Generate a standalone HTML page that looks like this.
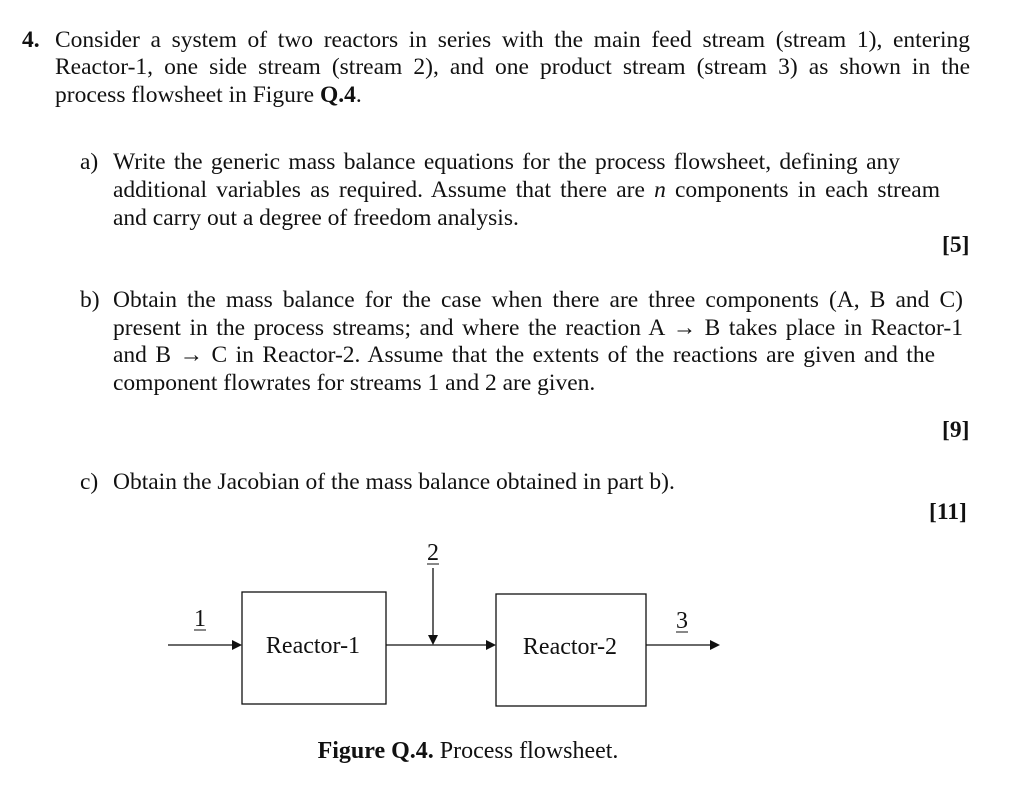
<!DOCTYPE html>
<html><head><meta charset="utf-8"><style>
body{margin:0;width:1024px;height:789px;background:#fff;position:relative;overflow:hidden;font-family:"Liberation Serif",serif;font-size:23.5px;color:#111}
.l{position:absolute;white-space:nowrap;line-height:27px;height:27px}
.j{text-align:justify;text-align-last:justify}
</style></head><body>
<div class="l" style="left:22px;top:27px"><b>4.</b></div>
<div class="l j" style="left:55px;top:27px;width:915px">Consider a system of two reactors in series with the main feed stream (stream 1), entering</div>
<div class="l j" style="left:55px;top:54px;width:915px">Reactor-1, one side stream (stream 2), and one product stream (stream 3) as shown in the</div>
<div class="l" style="left:55px;top:82px">process flowsheet in Figure <b>Q.4</b>.</div>

<div class="l" style="left:80px;top:149px">a)</div>
<div class="l j" style="left:113px;top:149px;width:787px">Write the generic mass balance equations for the process flowsheet, defining any</div>
<div class="l j" style="left:113px;top:177px;width:827px">additional variables as required. Assume that there are <i>n</i> components in each stream</div>
<div class="l" style="left:113px;top:205px">and carry out a degree of freedom analysis.</div>
<div class="l" style="left:942px;top:232px"><b>[5]</b></div>

<div class="l" style="left:80px;top:287px">b)</div>
<div class="l j" style="left:113px;top:287px;width:850px">Obtain the mass balance for the case when there are three components (A, B and C)</div>
<div class="l j" style="left:113px;top:315px;width:850px">present in the process streams; and where the reaction A → B takes place in Reactor-1</div>
<div class="l j" style="left:113px;top:342px;width:822px">and B → C in Reactor-2. Assume that the extents of the reactions are given and the</div>
<div class="l" style="left:113px;top:370px">component flowrates for streams 1 and 2 are given.</div>
<div class="l" style="left:942px;top:417px"><b>[9]</b></div>

<div class="l" style="left:80px;top:469px">c)</div>
<div class="l" style="left:113px;top:469px">Obtain the Jacobian of the mass balance obtained in part b).</div>
<div class="l" style="left:929px;top:499px"><b>[11]</b></div>

<svg style="position:absolute;left:0;top:0" width="1024" height="789">
<g stroke="#111" stroke-width="1.3" fill="none">
<rect x="242" y="592" width="144" height="112"/>
<rect x="496" y="594" width="150" height="112"/>
<line x1="168" y1="645" x2="234" y2="645"/>
<line x1="386" y1="645" x2="488" y2="645"/>
<line x1="433" y1="568" x2="433" y2="637"/>
<line x1="646" y1="645" x2="712" y2="645"/>
</g>
<g fill="#111">
<polygon points="242,645 232,640 232,650"/>
<polygon points="496,645 486,640 486,650"/>
<polygon points="433,645 428,635 438,635"/>
<polygon points="720,645 710,640 710,650"/>
</g>
<g font-family="Liberation Serif, serif" font-size="24" fill="#111">
<text x="313" y="653" text-anchor="middle">Reactor-1</text>
<text x="570" y="654" text-anchor="middle">Reactor-2</text>
<text x="200" y="626" text-anchor="middle">1</text>
<text x="433" y="560" text-anchor="middle">2</text>
<text x="682" y="628" text-anchor="middle">3</text>
</g>
<g stroke="#111" stroke-width="1">
<line x1="194" y1="630" x2="206" y2="630"/>
<line x1="427" y1="564" x2="439" y2="564"/>
<line x1="676" y1="632" x2="688" y2="632"/>
</g>
<text x="468" y="758" text-anchor="middle" font-family="Liberation Serif, serif" font-size="24" fill="#111"><tspan font-weight="bold">Figure Q.4.</tspan> Process flowsheet.</text>
</svg>
</body></html>
